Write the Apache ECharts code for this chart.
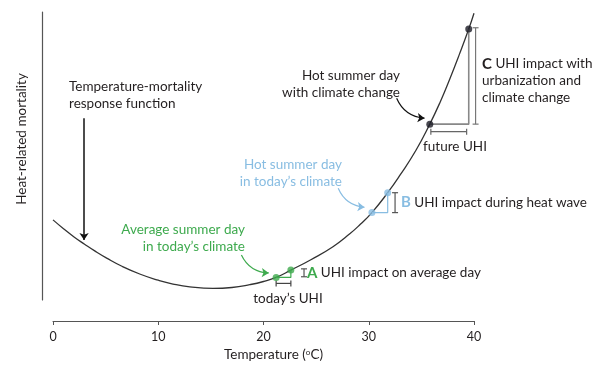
<!DOCTYPE html>
<html>
<head>
<meta charset="utf-8">
<script src="https://cdn.jsdelivr.net/npm/echarts@6/dist/echarts.min.js"></script>
<style>
  html, body { margin: 0; padding: 0; background: #fff; }
  #main { width: 599px; height: 377px; }
</style>
</head>
<body>
<div id="main"></div>
<script>
// response curve (temperature in degC, mortality in arbitrary units)
var curveTemp = [0, 1, 2, 3, 4, 5.1, 6.5, 8.3, 10, 11.4, 13, 15.2, 17, 18.7, 20, 21.2, 22.6, 24.5, 26.6, 28.2, 29.2, 30.3, 31.8, 33, 34.5, 35.8, 36.8, 37.7, 38.6, 39.5, 40];
var curveMort = [32.0, 29.2, 26.6, 24.3, 22.1, 19.9, 17.4, 14.8, 12.9, 11.7, 10.8, 10.3, 10.6, 11.5, 12.5, 13.8, 16.1, 19.4, 23.5, 27.6, 30.6, 34.3, 40.6, 46.3, 54.1, 62.3, 69.4, 76.6, 84.3, 92.4, 97.4];

// UHI pairs (today, with UHI)
var tempA = [21.2, 22.6];
var mortA = [13.8, 16.1];
var tempB = [30.3, 31.8];
var mortB = [34.3, 40.6];
var tempC = [35.8, 39.5];
var mortC = [62.3, 92.4];

var xTicks = [0, 10, 20, 30, 40];

var black = '#231f20';
var green = '#3eaa4e';
var blue = '#88bde2';
var font = 'Lato';
var fs = 13.5;

function pairs(t, m) {
    return t.map(function (v, i) { return [v, m[i]]; });
}
function corner(t, m) {
    return [[t[0], m[0]], [t[1], m[0]], [t[1], m[1]]];
}

// I-beam: [x1, y1, x2, y2]
var beams = [
    { value: [23.85, 14.0, 23.85, 16.5], color: '#555' },
    { value: [32.5, 34.3, 32.5, 40.6], color: '#555' },
    { value: [40.15, 62.3, 40.15, 92.8], color: '#777' },
    { value: [tempA[0], 11.9, tempA[1], 11.9], color: '#444' },
    { value: [35.9, 59.9, 39.3, 59.9], color: '#666' }
];

function renderBeam(params, api) {
    var p1 = api.coord([api.value(0), api.value(1)]);
    var p2 = api.coord([api.value(2), api.value(3)]);
    var c = beams[params.dataIndex].color;
    var vert = Math.abs(p1[0] - p2[0]) < 1;
    var h = 3;
    var caps = vert
        ? [[p1[0] - h, p1[1], p1[0] + h, p1[1]], [p2[0] - h, p2[1], p2[0] + h, p2[1]]]
        : [[p1[0], p1[1] - h, p1[0], p1[1] + h], [p2[0], p2[1] - h, p2[0], p2[1] + h]];
    var st = { stroke: c, lineWidth: 1.2 };
    return {
        type: 'group',
        children: [
            { type: 'line', shape: { x1: p1[0], y1: p1[1], x2: p2[0], y2: p2[1] }, style: st },
            { type: 'line', shape: { x1: caps[0][0], y1: caps[0][1], x2: caps[0][2], y2: caps[0][3] }, style: st },
            { type: 'line', shape: { x1: caps[1][0], y1: caps[1][1], x2: caps[1][2], y2: caps[1][3] }, style: st }
        ]
    };
}

function txt(text, x, y, color, align, extra) {
    var s = {
        text: text, x: x, y: y, fill: color, align: align || 'left', verticalAlign: 'middle',
        fontSize: fs, fontFamily: font, lineHeight: 17
    };
    if (extra) for (var k in extra) s[k] = extra[k];
    return { type: 'text', silent: true, style: s };
}

var option = {
    animation: false,
    grid: [
        { left: 53, right: 125, top: 5, bottom: 56 },
        { left: 42, width: 10, top: 12, bottom: 77 }
    ],
    xAxis: [{
        type: 'value',
        min: xTicks[0],
        max: xTicks[xTicks.length - 1],
        interval: 10,
        name: 'Temperature ({sup|o}C)',
        nameLocation: 'middle',
        nameGap: 27,
        nameTextStyle: {
            fontSize: fs, fontFamily: font, color: black, padding: [0, 0, 0, 20],
            rich: { sup: { fontSize: 8, fontFamily: font, color: black, verticalAlign: 'top', padding: [0, 0, 6, 0] } }
        },
        splitLine: { show: false },
        axisLine: { lineStyle: { color: '#555', width: 1 } },
        axisTick: { length: 4, lineStyle: { color: '#555' } },
        axisLabel: { fontSize: 12.5, fontFamily: font, color: black, margin: 9 }
    }, {
        gridIndex: 1, type: 'value', show: false
    }],
    yAxis: [{
        type: 'value', min: 0, max: 100, show: false
    }, {
        gridIndex: 1, type: 'value', min: 0, max: 1,
        splitLine: { show: false },
        axisTick: { show: false },
        axisLabel: { show: false },
        axisLine: { show: true, lineStyle: { color: '#555', width: 1.2 } }
    }],
    series: [
        {
            type: 'line', data: pairs(curveTemp, curveMort), smooth: 0.5, symbol: 'none',
            lineStyle: { color: '#333', width: 1.3 }, z: 2
        },
        // corner lines
        { type: 'line', data: corner(tempA, mortA), symbol: 'none', lineStyle: { color: green, width: 1.2 }, z: 3 },
        { type: 'line', data: corner(tempB, mortB), symbol: 'none', lineStyle: { color: blue, width: 1.2 }, z: 3 },
        { type: 'line', data: corner(tempC, mortC), symbol: 'none', lineStyle: { color: '#888', width: 1.6 }, z: 3 },
        // points
        { type: 'scatter', data: pairs(tempA, mortA), symbolSize: 7, itemStyle: { color: green }, z: 5 },
        { type: 'scatter', data: pairs(tempB, mortB), symbolSize: 7, itemStyle: { color: blue }, z: 5 },
        { type: 'scatter', data: pairs(tempC, mortC), symbolSize: 7, itemStyle: { color: '#1b1b26' }, z: 5 },
        // I-beams and brackets
        { type: 'custom', renderItem: renderBeam, data: beams.map(function (b) { return b.value; }), z: 4 },
        // arrows
        {
            type: 'lines', coordinateSystem: 'cartesian2d', symbol: ['none', 'arrow'], symbolSize: 7, z: 4,
            data: [
                { coords: [[2.95, 64.2], [2.95, 25.6]], lineStyle: { color: '#111', width: 1.5, opacity: 1, curveness: 0 } },
                { coords: [[17.9, 20.9], [20.5, 15.2]], lineStyle: { color: green, width: 1.2, opacity: 1, curveness: -0.3 } },
                { coords: [[27.1, 42.0], [29.6, 36.0]], lineStyle: { color: blue, width: 1.2, opacity: 1, curveness: -0.3 } },
                { coords: [[32.65, 70.5], [35.3, 64.2]], lineStyle: { color: '#111', width: 1.2, opacity: 1, curveness: -0.3 } }
            ]
        }
    ],
    graphic: [
        txt('Heat-related mortality', 22, 139, black, 'center'),
        txt('Temperature-mortality\nresponse function', 69, 95, black, 'left'),
        txt('Hot summer day\nwith climate change', 400, 84, black, 'right'),
        txt('Hot summer day\nin today\u2019s climate', 342, 173, blue, 'right'),
        txt('Average summer day\nin today\u2019s climate', 245, 238, green, 'right'),
        txt('{c|C} UHI impact with\nurbanization and\nclimate change', 482, 81, black, 'left',
            { rich: { c: { fontSize: 15, fontWeight: 'bold', fontFamily: font, fill: black } } }),
        txt('{b|B} UHI impact during heat wave', 401, 202.5, black, 'left',
            { rich: { b: { fontSize: 15, fontWeight: 'bold', fontFamily: font, fill: blue } } }),
        txt('{a|A} UHI impact on average day', 307, 273, black, 'left',
            { rich: { a: { fontSize: 15, fontWeight: 'bold', fontFamily: font, fill: green } } }),
        txt('today\u2019s UHI', 288, 299, black, 'center'),
        txt('future UHI', 455, 147, black, 'center')
    ]
};

var chart = echarts.init(document.getElementById('main'));
chart.setOption(option);
// rotate the y axis title
chart.setOption({ graphic: [{ rotation: Math.PI / 2, x: 22, y: 139, style: { x: 0, y: 0 } }] });
</script>
</body>
</html>
